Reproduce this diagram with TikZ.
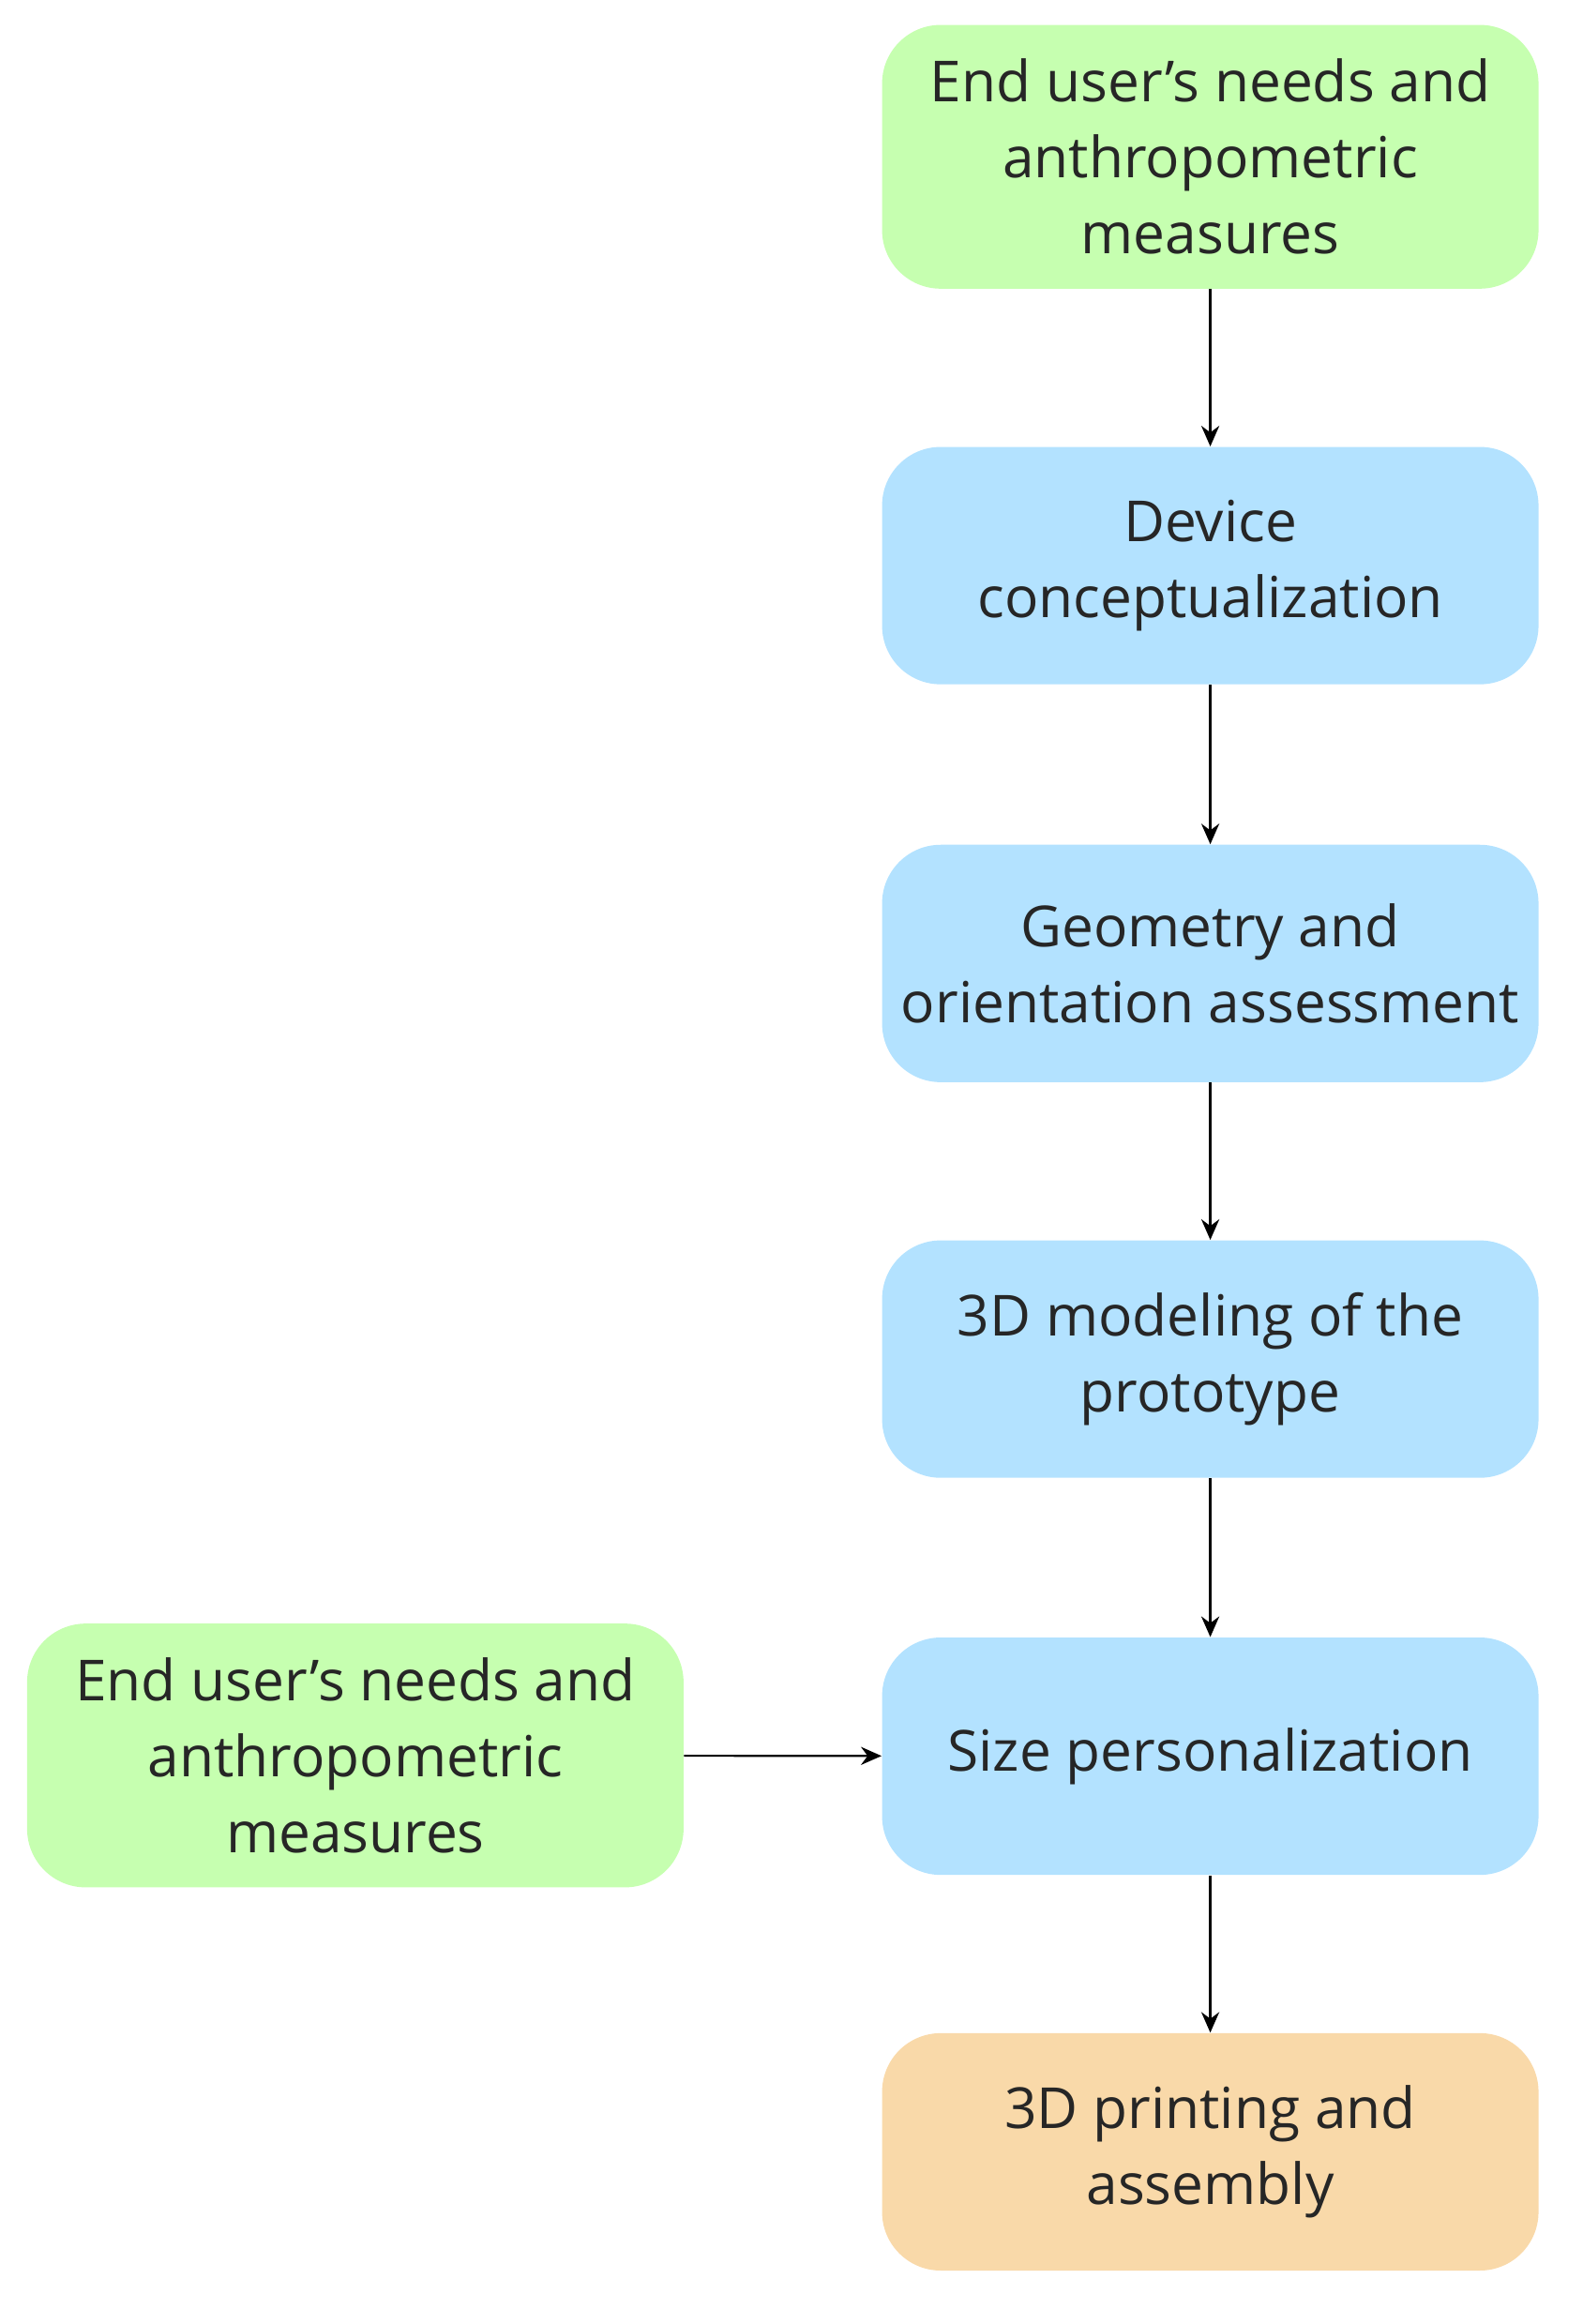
\documentclass[tikz,border=0pt]{standalone}
\usepackage{fontspec}
\setmainfont{Open Sans}
\usetikzlibrary{arrows.meta}
\definecolor{needgreen}{HTML}{C6FFB0}
\definecolor{stepblue}{HTML}{B3E2FF}
\definecolor{printorange}{HTML}{F9D9A9}
\tikzset{
  step_box/.style={rounded corners=.8cm,minimum width=8.96cm,align=center,
    font=\fontsize{22}{29.5}\selectfont,text=black!85},
  need_box/.style={step_box,fill=needgreen,minimum height=3.6cm},
  blue_box/.style={step_box,fill=stepblue,minimum height=3.24cm},
  print_box/.style={step_box,fill=printorange,minimum height=3.24cm},
}

\begin{document}
\begin{tikzpicture}[
  flow arrow/.style={thick,-{Stealth[length=8pt,width=7pt]}},
  ]
  \useasboundingbox (0,0) rectangle (21.6,-31.72);

  \node[need_box] (needs) at (16.52,-2.14) {End user’s needs and\\anthropometric\\measures};
  \node[blue_box] (concept) at (16.52,-7.72) {Device\\conceptualization};
  \node[blue_box] (geometry) at (16.52,-13.15) {Geometry and\\orientation assessment};
  \node[blue_box] (modeling) at (16.52,-18.55) {3D modeling of the\\prototype};
  \node[blue_box] (size) at (16.52,-23.97) {Size personalization};
  \node[print_box] (printing) at (16.52,-29.37) {3D printing and\\assembly};
  \node[need_box] (measures) at (4.85,-23.96) {End user’s needs and\\anthropometric\\measures};

  \draw[flow arrow] (needs) -- (concept);
  \draw[flow arrow] (concept) -- (geometry);
  \draw[flow arrow] (geometry) -- (modeling);
  \draw[flow arrow] (modeling) -- (size);
  \draw[flow arrow] (size) -- (printing);
  \draw[flow arrow] (measures) -- (size);
\end{tikzpicture}
\end{document}
